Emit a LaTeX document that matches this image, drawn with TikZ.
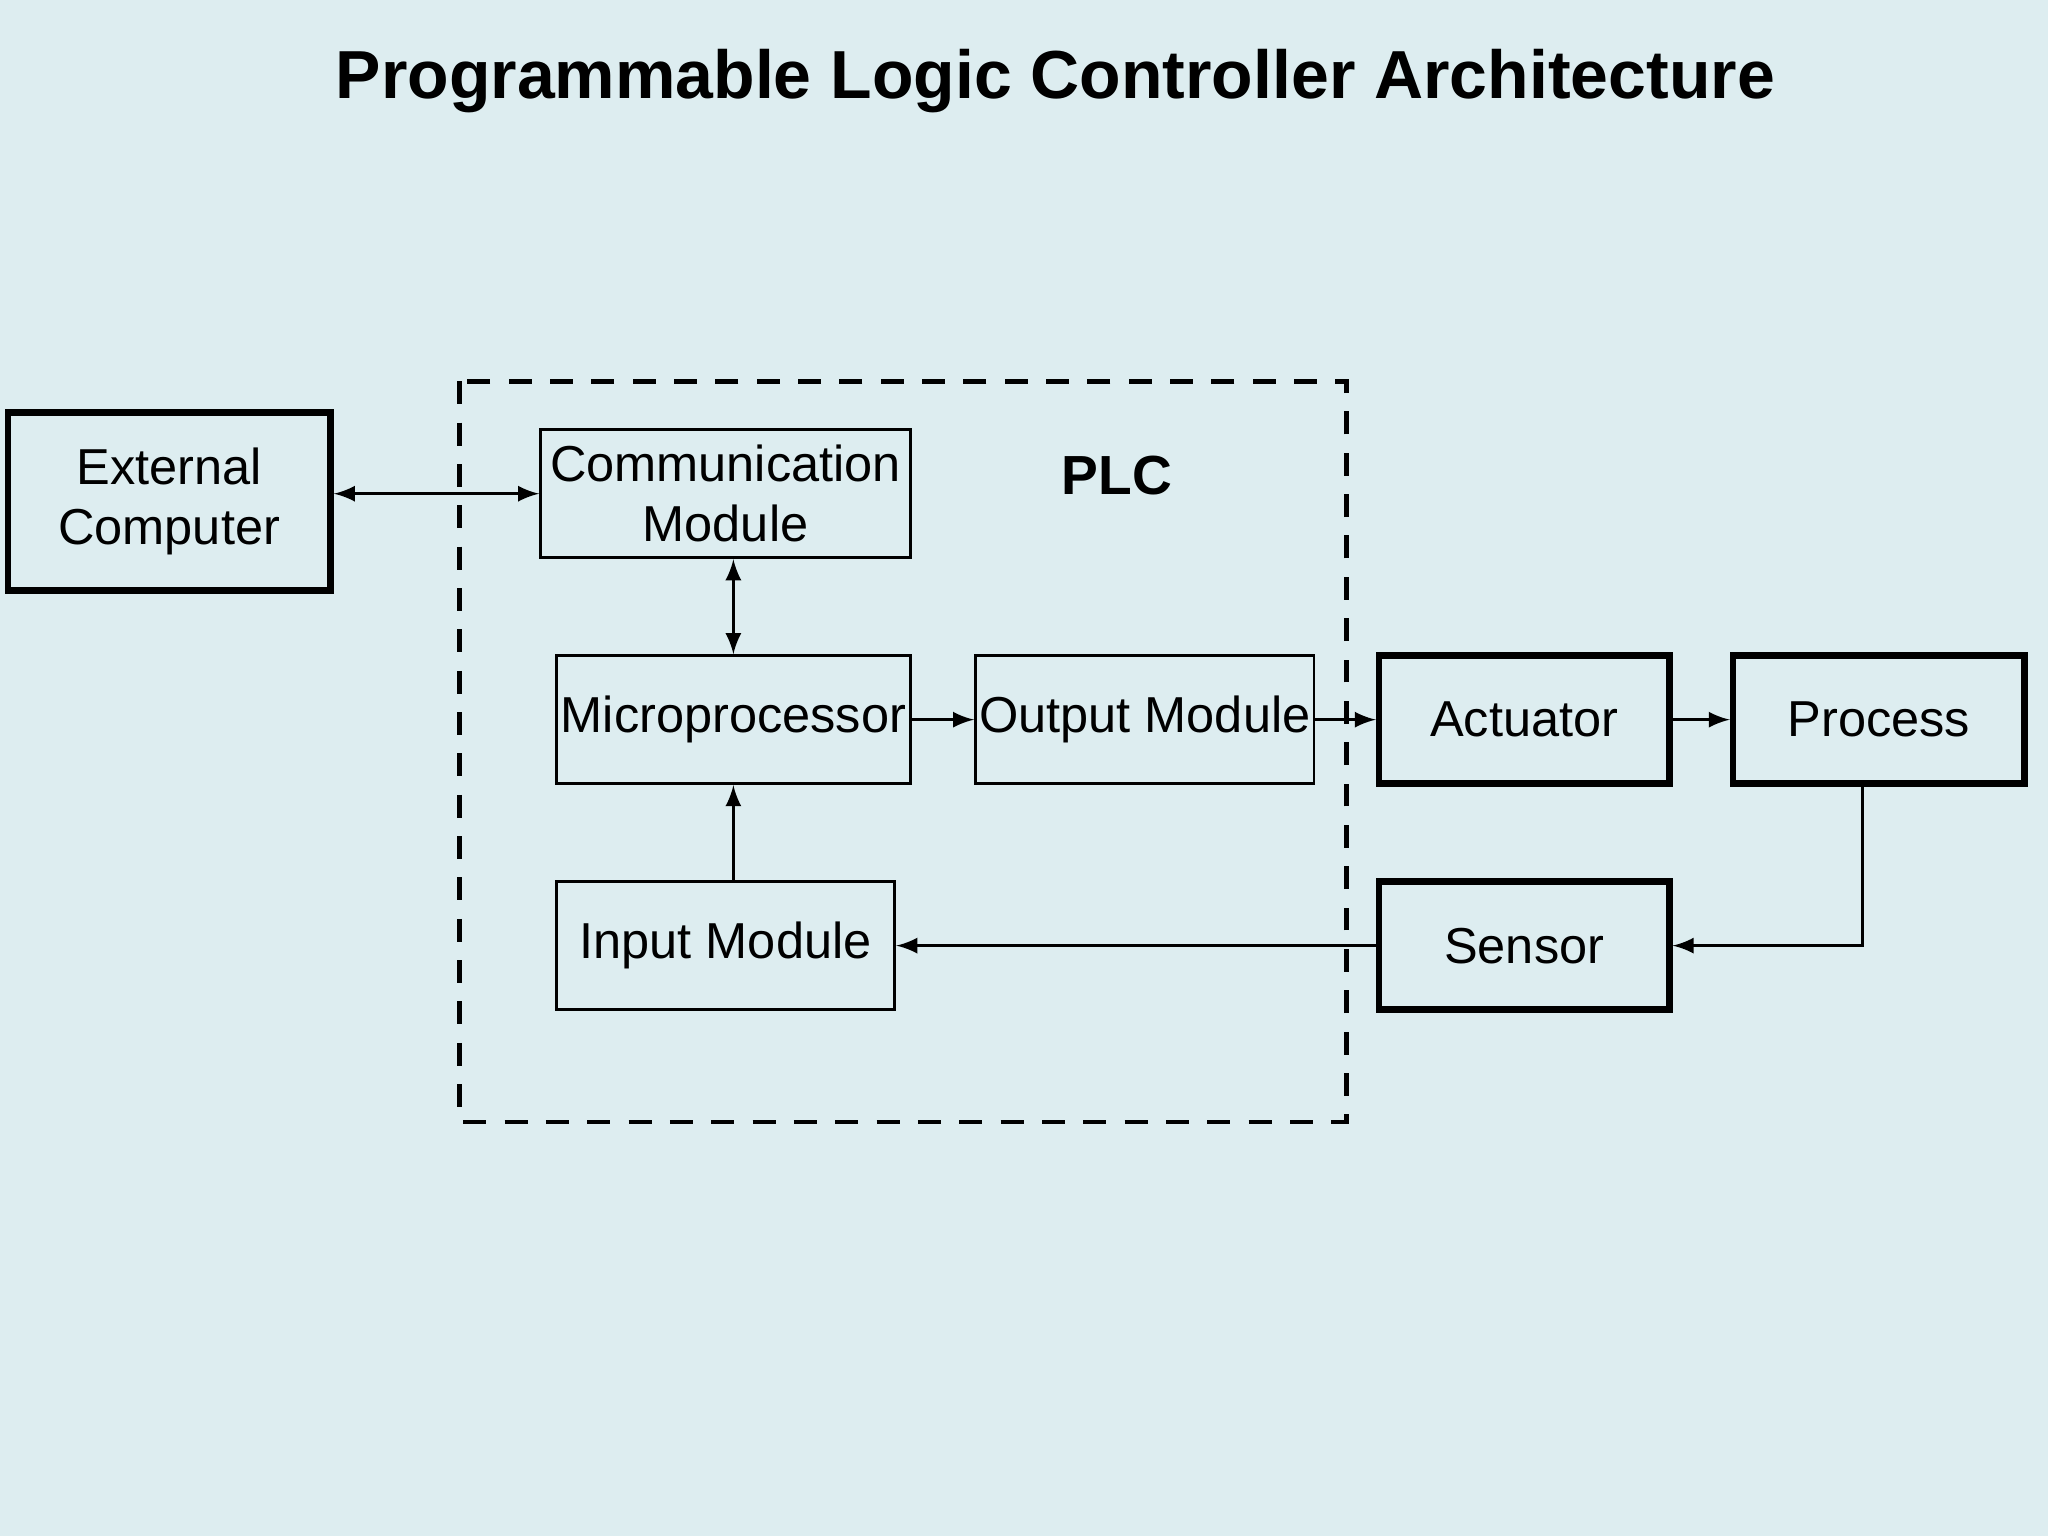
\documentclass[tikz,border=0pt]{standalone}
\usepackage{fontspec}
\setmainfont{Liberation Sans}
\definecolor{bgcol}{HTML}{DDEDF0}
\tikzset{
  inner/.style={draw, line width=0.6pt, inner sep=0pt, align=center, font=\fontsize{11}{13}\selectfont},
  outer/.style={draw, line width=1.4pt, inner sep=0pt, align=center, font=\fontsize{11}{13}\selectfont},
}
\begin{document}
\begin{tikzpicture}[x=0.01cm, y=-0.01cm, >=latex, line width=0.6pt]
    % Hintergrund
    \fill[bgcol] (0,0) rectangle (1568,1176);
    \useasboundingbox (0,0) rectangle (1568,1176);

    % Titel
    \node[font=\bfseries\fontsize{14.8}{17}\selectfont] (title) at (808,62) {Programmable Logic Controller Architecture};

    % PLC-Rahmen
    \draw[line width=1pt, dash pattern=on 5pt off 4pt] (352,292) rectangle (1031,859);
    \node[font=\bfseries\fontsize{12}{14}\selectfont] (plc) at (855,364) {PLC};

    % Module im PLC
    \node[inner, minimum width=2.83cm, minimum height=0.98cm] (comm) at (555.5,378) {Communication\\Module};
    \node[inner, minimum width=2.71cm, minimum height=0.98cm] (micro) at (561.5,551) {Microprocessor};
    \node[inner, minimum width=2.59cm, minimum height=0.98cm] (output) at (876.5,551) {Output Module};
    \node[inner, minimum width=2.59cm, minimum height=0.98cm] (input) at (555.5,724) {Input Module};

    % externe Komponenten
    \node[outer, minimum width=2.47cm, minimum height=1.36cm] (ext) at (129.5,384) {External\\Computer};
    \node[outer, minimum width=2.22cm, minimum height=0.98cm] (act) at (1167,551) {Actuator};
    \node[outer, minimum width=2.23cm, minimum height=0.98cm] (proc) at (1438.5,551) {Process};
    \node[outer, minimum width=2.22cm, minimum height=0.98cm] (sensor) at (1167,724) {Sensor};

    % Verbindungen
    \draw[<->] (ext.east |- comm.west) -- (comm.west);
    \draw[<->] (comm.south -| micro.north) -- (micro.north);
    \draw[->] (input.north -| micro.south) -- (micro.south);
    \draw[->] (micro.east) -- (output.west);
    \draw[->] (output.east) -- (act.west);
    \draw[->] (act.east) -- (proc.west);
    \draw[->] (proc.south -| 1426,0) |- (sensor.east);
    \draw[->] (sensor.west) -- (input.east);
\end{tikzpicture}
\end{document}
